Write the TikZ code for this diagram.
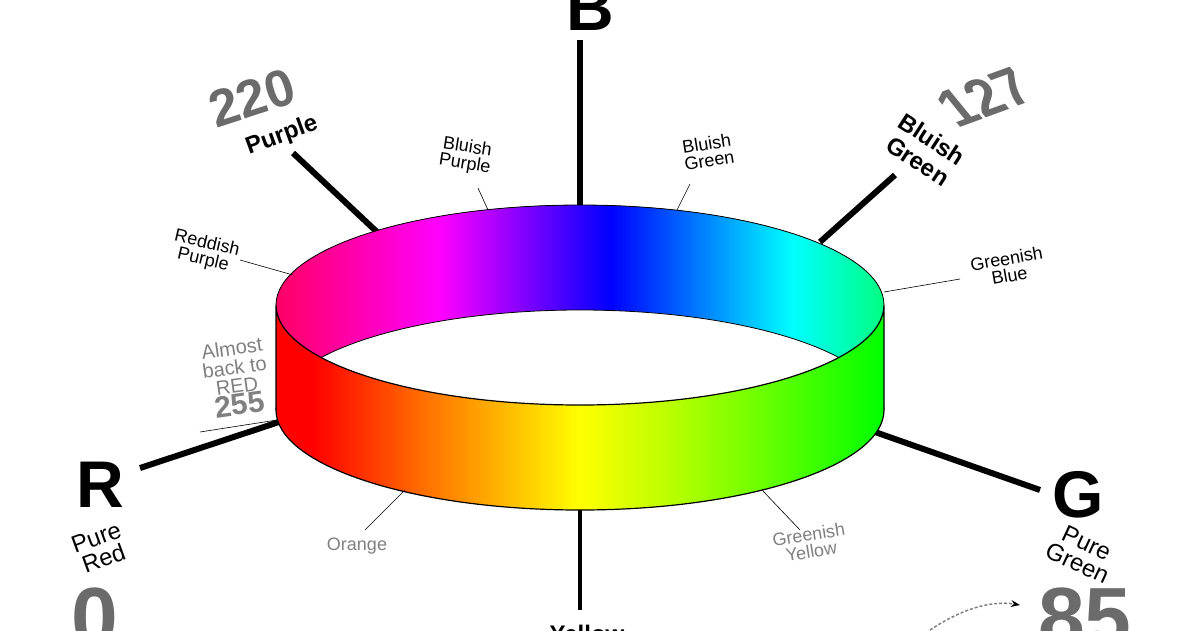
\documentclass[tikz,border=0pt]{standalone}
\usepackage{fontspec}
\setmainfont{Liberation Sans}
\usetikzlibrary{arrows.meta}
\definecolor{c1}{RGB}{255,0,100}
\definecolor{c2}{RGB}{255,0,255}
\definecolor{c3}{RGB}{128,0,255}
\definecolor{c4}{RGB}{0,0,255}
\definecolor{c5}{RGB}{0,255,255}
\definecolor{c6}{RGB}{0,255,128}
\definecolor{f1}{RGB}{255,0,0}
\definecolor{f2}{RGB}{255,115,0}
\definecolor{f3}{RGB}{255,255,0}
\definecolor{f4}{RGB}{180,255,0}
\definecolor{f5}{RGB}{0,255,0}
\pgfdeclarehorizontalshading{backsh}{100bp}{color(0bp)=(c1); color(25bp)=(c1); color(38.5bp)=(c2); color(45.5bp)=(c3); color(52.5bp)=(c4); color(67.5bp)=(c5); color(75bp)=(c6); color(100bp)=(c6)}
\pgfdeclarehorizontalshading{frontsh}{100bp}{color(0bp)=(f1); color(28bp)=(f1); color(37.5bp)=(f2); color(50bp)=(f3); color(58bp)=(f4); color(75bp)=(f5); color(100bp)=(f5)}
\definecolor{lbl}{gray}{0.5}
\definecolor{numc}{gray}{0.42}
\tikzset{ax/.style={line width=6pt},thin lead/.style={line width=0.6pt},
 small/.style={font=\fontsize{18}{17}\selectfont,align=center,inner sep=0pt},
 big/.style={font=\bfseries\fontsize{66}{66}\selectfont,inner sep=0pt},
 num/.style={font=\bfseries\fontsize{52}{52}\selectfont,text=numc,inner sep=0pt}}
\begin{document}
\begin{tikzpicture}[x=1pt,y=-1pt]
\useasboundingbox (0,0) rectangle (1200,630);
% axes behind
\draw[ax] (580,40) -- (580,210);
\draw[ax] (293,153) -- (377,232);
\draw[ax] (820,242) -- (895,175);
\draw[ax] (140,468) -- (285,420);
\draw[ax] (875,432) -- (1040,490);
\draw[line width=3.5pt] (580,505) -- (580,610);
% ring
\fill[shading=backsh] (580,305) ellipse [x radius=304, y radius=100];
\begin{scope}
\clip (580,305) ellipse [x radius=304, y radius=100];
\fill[white] (580,410) ellipse [x radius=304, y radius=100];
\end{scope}
\draw[line width=0.8pt] (276,305) arc[start angle=180,end angle=0,x radius=304,y radius=-100];
\draw[line width=0.8pt] (276,410) arc[start angle=180,end angle=0,x radius=304,y radius=-100];
\draw[line width=1.2pt,shading=frontsh] (276,305) arc[start angle=180,end angle=360,x radius=304,y radius=-100]
  -- (884,410) arc[start angle=0,end angle=-180,x radius=304,y radius=-100] -- cycle;
% big labels
\node[big] (B) at (590,8) {B};
\node[big] (R) at (100,485) {R};
\node[big] (G) at (1078,495) {G};
\node[small,font=\fontsize{24}{22}\selectfont,rotate=20] (pr) at (100,548) {Pure\\Red};
\node[small,font=\fontsize{24}{22}\selectfont,rotate=-25] (pg) at (1082,553) {Pure\\Green};
\node[num,font=\bfseries\fontsize{84}{84}\selectfont] (n0) at (95,618) {0};
\node[num,font=\bfseries\fontsize{84}{84}\selectfont] (n85) at (1085,618) {85};
\node[num,rotate=18] (n220) at (252,98) {220};
\node[font=\bfseries\fontsize{24}{24}\selectfont,rotate=20] (pu) at (282,136) {Purple};
\node[num,rotate=20,xslant=-0.35,yscale=1.1] (n127) at (985,97) {127};
\node[font=\bfseries\fontsize{24}{26}\selectfont,rotate=-33,align=center] (bg) at (925,150) {Bluish\\Green};
\node[small,rotate=-9] (bp) at (466,156) {Bluish\\Purple};
\node[small,rotate=9] (bgs) at (708,152) {Bluish\\Green};
\node[small,rotate=-13] (rp) at (205,252) {Reddish\\Purple};
\node[small,rotate=10] (gb) at (1008,267) {Greenish\\Blue};
\node[align=center,inner sep=0pt,text=lbl,font=\fontsize{20}{19}\selectfont,rotate=8] (ab) at (236,378) {Almost\\back to\\RED\\{\bfseries\fontsize{30}{24}\selectfont 255}};
\node[small,text=lbl] (or) at (357,546) {Orange};
\node[small,text=lbl,rotate=9] (gy) at (810,543) {Greenish\\Yellow};
\node[font=\bfseries\fontsize{24}{24}\selectfont] (ye) at (587,634) {Yellow};
% leads
\draw[thin lead] (478,188) -- (488,210);
\draw[thin lead] (690,184) -- (677,210);
\draw[thin lead] (240,260) -- (293,275);
\draw[thin lead] (960,279) -- (884,292);
\draw[thin lead] (200,432) -- (277,420);
\draw[thin lead] (365,530) -- (405,490);
\draw[thin lead] (800,530) -- (762,490);
\coordinate (ds) at (930,630);
\coordinate (de) at (1020,605);
\draw[densely dashed,line width=1.5pt,gray,-{Stealth[black,length=9pt]}] (ds) .. controls (960,610) and (990,600) .. (de);
\end{tikzpicture}
\end{document}
